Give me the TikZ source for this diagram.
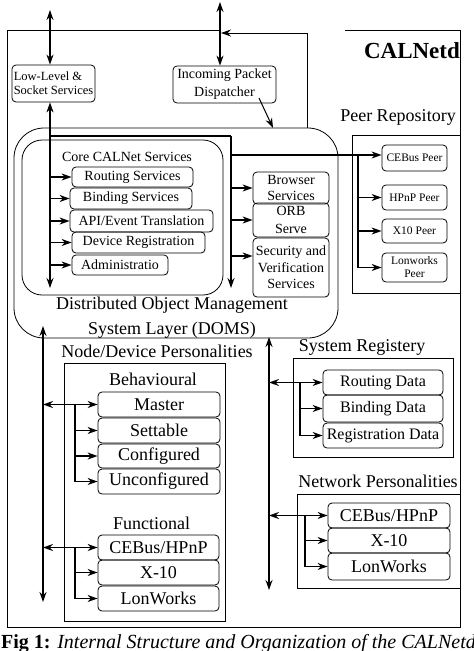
\documentclass[tikz,border=0pt]{standalone}
\usepackage{fontspec}
\setmainfont{Liberation Serif}
\usetikzlibrary{arrows.meta}
\begin{document}
\begin{tikzpicture}[x=1pt,y=-1pt,
  sz/.style 2 args={minimum width=#1pt, minimum height=#2pt},
  box/.style={draw, line width=0.8pt, rounded corners=4pt, inner sep=0pt, align=center},
  pbox/.style={draw, line width=0.7pt, inner sep=0pt},
  lbl/.style={inner sep=0pt, anchor=base},
  ln/.style={line width=1.4pt},
  arr/.style={line width=1.4pt, -{Stealth[length=10pt,width=7pt]}},
  darr/.style={line width=1.4pt, {Stealth[length=10pt,width=7pt]}-{Stealth[length=10pt,width=7pt]}},
  fA/.style={font=\fontsize{18}{20}\selectfont},
  fB/.style={font=\fontsize{14}{16}\selectfont},
  fC/.style={font=\fontsize{11.5}{13}\selectfont},
  fD/.style={font=\fontsize{16}{18}\selectfont},
]
\useasboundingbox (0,0) rectangle (474,651);
\clip (0,0) rectangle (474,651);

% outer frame
\draw[line width=1pt] (220,30) -- (7,30) -- (7,627) -- (460,627) -- (460,30) -- (345,30);

% top boxes
\node[box, sz={83}{37}, align=left, font=\fontsize{12.5}{14}\selectfont] (low) at (53.5,83.5) {Low-Level \&\\Socket Services};
\node[box, sz={103}{37}, font=\fontsize{14}{18}\selectfont] (disp) at (224.5,84.5) {Incoming Packet\\Dispatcher};
\node[inner sep=0pt, font=\bfseries\fontsize{23}{25}\selectfont] (title) at (412,51) {CALNetd};
\node[lbl, fA] (peerlbl) at (398,121) {Peer Repository};

\coordinate (t1) at (50,10);
\draw[darr] (t1) -- (t1 |- low.north);
\coordinate (t2) at (220,2);
\draw[darr] (t2) -- (t2 |- disp.north);
\coordinate (fb1) at (307,128);
\coordinate (fb2) at (307,33);
\draw[line width=1pt, -{Stealth[length=10pt,width=7pt]}] (fb1) -- (fb2) -- ([xshift=1pt]t2 |- fb2);
\coordinate (d1) at (259,98);
\coordinate (d2) at (273,128);
\draw[line width=1pt, -{Stealth[length=10pt,width=7pt]}] (d1) -- (d2);

% DOMS
\node[box, rounded corners=30pt, sz={324}{210}] (doms) at (176,233) {};
\node[lbl, fA] (domsA) at (172,309) {Distributed Object Management};
\node[lbl, fA] (domsB) at (172,334) {System Layer (DOMS)};

% Core
\node[box, rounded corners=20pt, sz={201}{155}] (core) at (122.5,217.5) {};
\node[lbl, fB] (coreT) at (127,161) {Core CALNet Services};
\node[box, fB, sz={121}{20}] (rs) at (132.5,177) {Routing Services};
\node[box, fB, sz={122}{21}] (bs) at (131,198.5) {Binding Services};
\node[box, fB, sz={143}{22}] (api) at (141.5,221) {API/Event Translation};
\node[box, fB, sz={133}{21}] (dr) at (138.5,242.5) {Device Registration};
\node[box, fB, sz={96}{20}] (adm) at (120,265) {Administratio};

\coordinate (cA) at (50,288);
\draw[darr] (cA) -- (cA |- low.south);
\foreach \n in {rs,bs,api,dr,adm} \draw[arr] (cA |- \n.west) -- (\n.west);
\coordinate (cTop) at (50,136);
\coordinate (cR) at (231,136);
\coordinate (cRb) at (231,288);
\draw[ln] (cTop) -- (cR);
\draw[arr] (cR) -- (cRb);

% services right of core
\node[box, fB, sz={76}{32}] (brw) at (291,188) {Browser\\Services};
\node[box, fB, sz={76}{34}, font=\fontsize{14}{18}\selectfont] (orb) at (291,220) {ORB\\Serve};
\node[box, sz={76}{59}, font=\fontsize{14}{16.5}\selectfont] (sec) at (291,267.5) {Security and\\Verification\\Services};
\draw[arr] (cR |- brw.west) -- (brw.west);
\draw[arr] (cR |- orb.west) -- (orb.west);
\coordinate (sJ) at (231,256);
\draw[arr] (sJ) -- (sJ -| sec.west);

% Peer repository
\node[pbox, sz={108}{158}] (peerbox) at (406,214) {};
\node[box, fC, sz={65}{26}] (cebP) at (414.5,158) {CEBus Peer};
\node[box, fC, sz={65}{25}] (hpP) at (414.5,197.5) {HPnP Peer};
\node[box, fC, sz={65}{24}] (x10P) at (414.5,231) {X10 Peer};
\node[box, fC, sz={65}{29}] (lonP) at (414.5,267.5) {Lonworks\\Peer};
\coordinate (pj) at (231,155);
\draw[arr] (pj) -- (pj -| cebP.west);
\coordinate (pv1) at (358,155);
\draw[arr] (pv1 |- hpP.west) -- (hpP.west);
\draw[arr] (pv1 |- x10P.west) -- (x10P.west);
\draw[arr] (pv1) |- (lonP.west);

% long verticals
\coordinate (lvT) at (43,326);
\coordinate (lvB) at (43,602);
\draw[darr] (lvT) -- (lvB);
\coordinate (rvT) at (269,337);
\coordinate (rvB) at (269,590);
\draw[darr] (rvT) -- (rvB);

% Node/Device personalities
\node[lbl, fA] (ndl) at (157,357) {Node/Device Personalities};
\node[pbox, sz={161}{258}] (ndbox) at (144.5,492) {};
\node[lbl, fA] (behl) at (153,385) {Behavioural};
\node[box, fA, sz={122}{25}] (master) at (159,404.5) {Master};
\node[box, fA, sz={122}{25}] (sett) at (159,430.5) {Settable};
\node[box, fA, sz={122}{24}] (conf) at (159,456) {Configured};
\node[box, fA, sz={122}{25}] (unconf) at (159,481.5) {Unconfigured};
\draw[darr] (lvT |- master.west) -- (master.west);
\coordinate (bJ) at (75,404.5);
\draw[arr] (bJ |- sett.west) -- (sett.west);
\draw[arr] (bJ |- conf.west) -- (conf.west);
\draw[arr] (bJ) |- (unconf.west);

\node[lbl, fA] (funl) at (151.5,529) {Functional};
\node[box, fA, sz={121}{25}] (fceb) at (158.5,547.5) {CEBus/HPnP};
\node[box, fA, sz={121}{25}] (fx10) at (158.5,572.5) {X-10};
\node[box, fA, sz={121}{25}] (flon) at (158.5,598.5) {LonWorks};
\draw[darr] (lvT |- fceb.west) -- (fceb.west);
\coordinate (fJ) at (75,547.5);
\draw[arr] (fJ |- fx10.west) -- (fx10.west);
\draw[arr] (fJ) |- (flon.west);

% System registery
\node[lbl, fA] (srl) at (362,351) {System Registery};
\node[pbox, sz={160}{99}] (srbox) at (373,407.5) {};
\node[box, fD, sz={120}{25}] (rd) at (383,382.5) {Routing Data};
\node[box, fD, sz={120}{27}] (bd) at (383,408.5) {Binding Data};
\node[box, fD, sz={120}{25}] (regd) at (383,435.5) {Registration Data};
\draw[darr] (rvT |- rd.west) -- (rd.west);
\coordinate (sJ0) at (300,382.5);
\draw[arr] (sJ0 |- bd.west) -- (bd.west);
\draw[arr] (sJ0) |- (regd.west);

% Network personalities
\node[lbl, fA] (npl) at (378,487) {Network Personalities};
\node[pbox, sz={163}{94}] (npbox) at (378.5,541) {};
\node[box, fA, sz={122}{25}] (nceb) at (389,515.5) {CEBus/HPnP};
\node[box, fA, sz={122}{25}] (nx10) at (389,540.5) {X-10};
\node[box, fA, sz={122}{27}] (nlon) at (389,566.5) {LonWorks};
\draw[darr] (rvT |- nceb.west) -- (nceb.west);
\coordinate (nJ) at (305,515.5);
\draw[arr] (nJ |- nx10.west) -- (nx10.west);
\draw[arr] (nJ) |- (nlon.west);

% caption (cut off at the bottom edge)
\node[anchor=base west, inner sep=0pt, font=\fontsize{20}{22}\selectfont] (cap) at (1,648) {\textbf{Fig 1:} \textit{Internal Structure and Organization of the CALNetd}};
\end{tikzpicture}
\end{document}
